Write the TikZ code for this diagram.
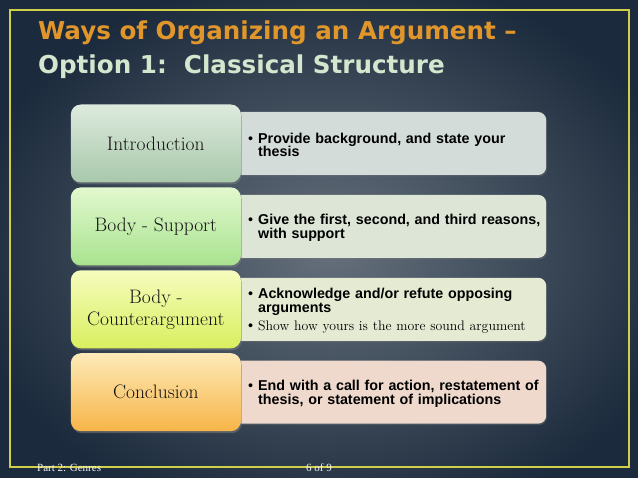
\documentclass[tikz,border=0pt]{standalone}
\usepackage{fontspec}
\newfontfamily\titlefont{DejaVu Sans}
\newfontfamily\notefont{Liberation Sans}
\newfontfamily\footfont{Liberation Serif}
\usetikzlibrary{positioning,shadows}

\definecolor{bgedge}{HTML}{1B2A3C}
\definecolor{bgmid}{HTML}{65707B}
\definecolor{framecol}{HTML}{CFCF48}
\definecolor{titleorange}{HTML}{E0962A}
\definecolor{titlepale}{HTML}{D5E6CE}
\definecolor{introtop}{HTML}{DDEADD}
\definecolor{introbot}{HTML}{A8C8AB}
\definecolor{supporttop}{HTML}{E2F8CE}
\definecolor{supportbot}{HTML}{A9E38F}
\definecolor{countertop}{HTML}{F6FCBE}
\definecolor{counterbot}{HTML}{D9EF5E}
\definecolor{concltop}{HTML}{FDEAB8}
\definecolor{conclbot}{HTML}{F7B548}
\definecolor{intronote}{HTML}{D3DCD8}
\definecolor{supportnote}{HTML}{DCE5D6}
\definecolor{counternote}{HTML}{E5EBD3}
\definecolor{conclnote}{HTML}{EED9CC}
\definecolor{stagetext}{HTML}{141414}

\newcommand\notepoint[1]{\par\hyphenpenalty=10000\exhyphenpenalty=10000
  \hangindent=10pt\hangafter=1\noindent
  \makebox[10pt][l]{\mdseries\textbullet}#1\par}

\begin{document}
\begin{tikzpicture}[
  x=1pt, y=-1pt,
  node distance=19.5pt,
  title/.style={anchor=base west, inner sep=0pt, font=\titlefont\bfseries\fontsize{24.6}{28}\selectfont},
  note/.style={anchor=west, rounded corners=8pt, minimum width=316pt, minimum height=63pt,
    text width=316pt, inner sep=0pt, align=left, text=black,
    font=\notefont\bfseries\fontsize{14.3}{13.5}\selectfont,
    drop shadow={shadow xshift=1pt, shadow yshift=-1.5pt, opacity=0.3}},
  stage/.style={anchor=east, rounded corners=10pt, minimum width=170pt, minimum height=78pt,
    inner sep=2pt, align=center, text=stagetext, font=\fontsize{19.5}{21}\selectfont,
    drop shadow={shadow xshift=1pt, shadow yshift=-2pt, opacity=0.5}},
  foot/.style={anchor=base west, inner sep=0pt, text=white!92!gray, font=\footfont\fontsize{11}{12}\selectfont}
]

% slide background and frame
\useasboundingbox (0,0) rectangle (638,478);
\begin{scope}
  \clip (0,0) rectangle (638,478);
  \fill[bgedge] (0,0) rectangle (638,478);
  \shade[inner color=bgmid, outer color=bgedge] (-40,-30) rectangle (700,530);
\end{scope}
\draw[framecol, line width=1.6pt] (10,10) rectangle (629,467);

\node[title, text=titleorange] (title1) at (38,40) {Ways of Organizing an Argument –};
\node[title, text=titlepale] (title2) at (38,74) {Option 1:\ \ Classical Structure};

% notes on the right
\node[note, fill=intronote] (intro-note) at (230,143.5)
  {\leftskip=18pt\notepoint{Provide background, and state your\newline thesis}};
\node[note, fill=supportnote, below=of intro-note] (support-note)
  {\leftskip=18pt\notepoint{Give the first, second, and third reasons,\newline with support}};
\node[note, fill=counternote, below=of support-note] (counter-note)
  {\leftskip=18pt\notepoint{Acknowledge and/or refute opposing\newline arguments}\vspace{3pt}
   \notepoint{\rmfamily\mdseries\fontsize{13.8}{15}\selectfont Show how yours is the more sound argument}};
\node[note, fill=conclnote, below=of counter-note] (concl-note)
  {\leftskip=18pt\notepoint{End with a call for action, restatement of\newline thesis, or statement of implications}};

% stages on the left
\node[stage, top color=introtop, bottom color=introbot] (intro)
  at ([xshift=11pt]intro-note.west) {Introduction};
\node[stage, top color=supporttop, bottom color=supportbot] (support)
  at ([xshift=11pt]support-note.west) {Body - Support};
\node[stage, top color=countertop, bottom color=counterbot] (counter)
  at ([xshift=11pt]counter-note.west) {Body -\\[1pt]Counterargument};
\node[stage, top color=concltop, bottom color=conclbot] (concl)
  at ([xshift=11pt]concl-note.west) {Conclusion};

% footer
\node[foot] (part) at (37,472) {Part 2: Genres};
\node[foot] (page) at (306,472) {6 of 9};

\end{tikzpicture}
\end{document}
